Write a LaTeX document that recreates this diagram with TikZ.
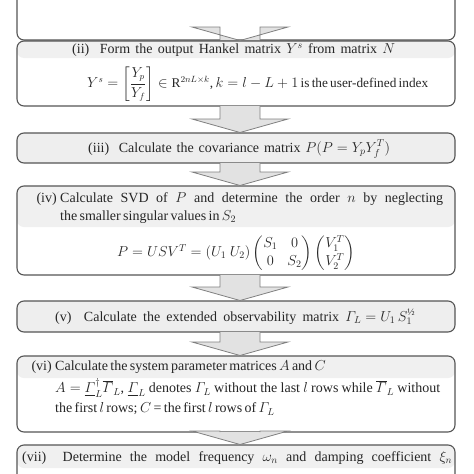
\documentclass[tikz,border=0pt]{standalone}
\usepackage{amsmath}
\usepackage{fontspec}
\setmainfont{Liberation Serif}
\usetikzlibrary{calc}
\definecolor{bordc}{HTML}{555555}
\definecolor{hdrc}{HTML}{F0F0F0}
\definecolor{fullc}{HTML}{EEEEEE}
\definecolor{arrc}{HTML}{E2E2E2}
\definecolor{arrb}{HTML}{808080}
\newcommand{\fitline}[2]{\makebox[#1][s]{#2}}
\newcommand{\mathsp}{\thickmuskip=5mu\medmuskip=4mu}
\tikzset{
  x=1pt,y=1pt,
  box/.style={draw=bordc, line width=1.1pt, rounded corners=7pt, fill=white,
    minimum width=438pt, inner sep=0pt, outer sep=0pt},
  hdr/.style={path picture={\fill[hdrc] (path picture bounding box.north west)
     rectangle ([yshift=-#1]path picture bounding box.north east);}},
  fullbox/.style={box, fill=fullc},
  txt/.style={font=\fontsize{14}{18}\selectfont\mathsp, inner sep=0pt, text=black!85},
  smalltxt/.style={txt, font=\fontsize{13.3}{18}\selectfont\mathsp},
  arr/.style={draw=arrb, fill=arrc, line width=0.8pt, line join=miter},
}
\newcommand{\barrow}[2]{%
  \draw[arr] ($(#1.south)+(-16,0)$) -- ($(#2.north)+(-16,14)$)
     -- ($(#2.north)+(-44,14)$) -- ($(#2.north)+(4,0.5)$)
     -- ($(#2.north)+(52,14)$) -- ($(#2.north)+(24,14)$)
     -- ($(#1.south)+(24,0)$);}
\begin{document}
\begin{tikzpicture}
\useasboundingbox (0,0) rectangle (474,-474);
\clip (0,0) rectangle (474,-474);
% boxes
\node[box, minimum height=55pt] (b1) at (236,-12.5) {};
\node[box, hdr=17pt, minimum height=65pt] (b2) at (236,-73.5) {};
\node[fullbox, minimum height=30pt] (b3) at (236,-148) {};
\node[box, hdr=41pt, minimum height=89pt] (b4) at (236,-230.5) {};
\node[fullbox, minimum height=31pt] (b5) at (236,-316.5) {};
\node[box, hdr=22pt, minimum height=76pt] (b6) at (236,-394) {};
\node[box, hdr=23pt, minimum height=60pt] (b7) at (236,-475) {};
% arrows
\barrow{b1}{b2}
\barrow{b2}{b3}
\barrow{b3}{b4}
\barrow{b4}{b5}
\barrow{b5}{b6}
\barrow{b6}{b7}
% texts
\node[txt, anchor=west] (t2a) at (72,-50) {\fitline{323pt}{(ii)\ \ Form the output Hankel matrix $Y^s$ from matrix $N$}};
\node[smalltxt, anchor=west] (t2b) at (87,-84) {\fitline{341pt}{$Y^s = \left[\dfrac{Y_p}{Y_f}\right] \in \mathrm{R}^{2nL\times k}$, $k = l - L + 1$ is the user-defined index}};
\node[txt, anchor=west] (t3) at (88,-149) {\fitline{302pt}{(iii)\ \ Calculate the covariance matrix $P(P = Y_p Y_f^T)$}};
\node[txt, anchor=east] (t4l) at (57,-199) {(iv)};
\node[txt, anchor=west] (t4a) at (60,-199) {\fitline{383pt}{Calculate SVD of $P$ and determine the order $n$ by neglecting}};
\node[txt, anchor=west] (t4b) at (60,-217) {\fitline{160pt}{the smaller singular values in $S_2$}};
\node[txt] (t4c) at (236,-253) {$P = USV^T = (U_1\ U_2)\begin{pmatrix} S_1 & 0\\ 0 & S_2\end{pmatrix}\begin{pmatrix}V_1^T\\ V_2^T\end{pmatrix}$};
\node[txt, anchor=west] (t5) at (55,-317) {\fitline{360pt}{(v)\ \ Calculate the extended observability matrix $\varGamma_L = U_1\, S_1^{\text{½}}$}};
\node[txt, anchor=east] (t6l) at (52,-367) {(vi)};
\node[txt, anchor=west] (t6a) at (55,-367) {\fitline{239pt}{Calculate the system parameter matrices $A$ and $C$}};
\node[txt, anchor=west] (t6b) at (55,-388) {\fitline{385pt}{$A = \underline{\varGamma}_L^{\dagger}\overline{\varGamma}_L$, $\underline{\varGamma}_L$ denotes $\varGamma_L$ without the last $l$ rows while $\overline{\varGamma}_L$ without}};
\node[txt, anchor=west] (t6c) at (55,-409) {\fitline{219pt}{the first $l$ rows; $C$ = the first $l$ rows of $\varGamma_L$}};
\node[txt, anchor=west] (t7) at (22,-458) {\fitline{430pt}{(vii)\ \ Determine the model frequency $\omega_n$ and damping coefficient $\xi_n$}};
\end{tikzpicture}
\end{document}
